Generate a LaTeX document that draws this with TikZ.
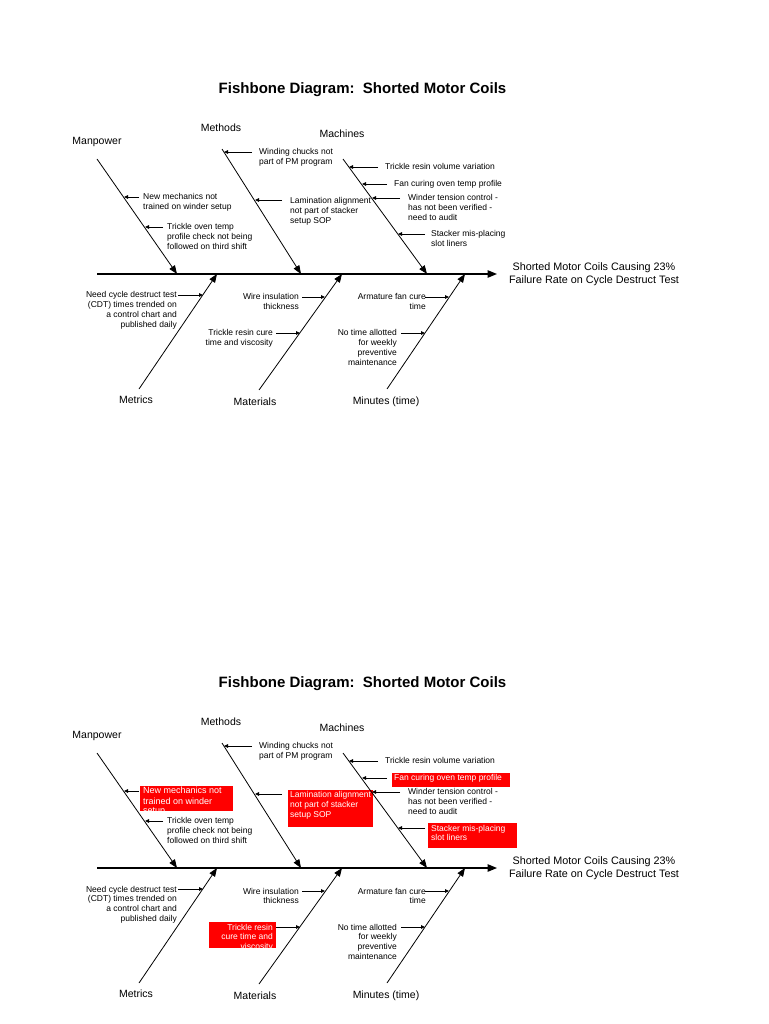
\documentclass[tikz,border=0pt]{standalone}
\usepackage{fontspec}
\setmainfont{Liberation Sans}
\usetikzlibrary{arrows.meta}
\definecolor{hired}{RGB}{255,0,0}
\newcommand{\cfont}{\fontsize{8.5}{9.7}\selectfont}
\newcommand{\cfontb}{\fontsize{9}{9.2}\selectfont}
\newcommand{\lfont}{\fontsize{10.5}{12}\selectfont}
\newcommand{\efont}{\fontsize{10.8}{13}\selectfont}
\newcommand{\tfont}{\fontsize{15}{18}\selectfont\bfseries}
\tikzset{
  bone/.style={line width=0.8pt, -{Triangle[length=8.5pt,width=6.5pt]}},
  spine/.style={line width=1.3pt, -{Triangle[length=9.5pt,width=7.5pt]}},
  carrow/.style={line width=0.9pt, -{Triangle[length=4pt,width=3.5pt]}},
  causeL/.style={font=\cfont, inner sep=0pt, align=left, anchor=north west},
  causeR/.style={font=\cfont, inner sep=0pt, align=right, anchor=north east},
  catlabel/.style={font=\lfont, inner sep=0pt, anchor=base},
  titlenode/.style={font=\tfont, inner sep=0pt, anchor=base},
  effectnode/.style={font=\efont, inner sep=0pt, align=center, anchor=north},
  redbox/.style={fill=hired, draw=none, inner sep=0pt, anchor=north west},
}
\newcommand{\fishskeleton}{%
  \node[titlenode] (title) at (362.5,93.4) {Fishbone Diagram:\ \ Shorted Motor Coils};
  \coordinate (spS) at (97,274);
  \coordinate (spE) at (497,274);
  \draw[spine] (spS) -- (spE);
  \node[effectnode] (effect) at (594,261.2) {\strut Shorted Motor Coils Causing 23\%\\Failure Rate on Cycle Destruct Test};
  % category labels
  \node[catlabel] (lMan) at (97,144.8) {Manpower};
  \node[catlabel] (lMet) at (221,131.8) {Methods};
  \node[catlabel] (lMac) at (342,137.8) {Machines};
  \node[catlabel] (lMtr) at (136,403.8) {Metrics};
  \node[catlabel] (lMat) at (255,405.8) {Materials};
  \node[catlabel] (lMin) at (386,404.8) {Minutes (time)};
  % bones
  \coordinate (manS) at (97,159);  \coordinate (manE) at (177,274);
  \coordinate (metS) at (222,149); \coordinate (metE) at (301,274);
  \coordinate (macS) at (343,159); \coordinate (macE) at (427,274);
  \coordinate (mtrS) at (139,389); \coordinate (mtrE) at (217,274);
  \coordinate (matS) at (259,390); \coordinate (matE) at (342,274);
  \coordinate (minS) at (387,389); \coordinate (minE) at (465,274);
  \draw[bone] (manS) -- (manE);
  \draw[bone] (metS) -- (metE);
  \draw[bone] (macS) -- (macE);
  \draw[bone] (mtrS) -- (mtrE);
  \draw[bone] (matS) -- (matE);
  \draw[bone] (minS) -- (minE);
  % cause arrows
  \coordinate (a1s) at (139,197);  \coordinate (a1e) at (124,197);
  \coordinate (a2s) at (163,227);  \coordinate (a2e) at (145,227);
  \coordinate (a3s) at (252,152);  \coordinate (a3e) at (224,152);
  \coordinate (a4s) at (282,200);  \coordinate (a4e) at (255,200);
  \coordinate (a5s) at (378,167);  \coordinate (a5e) at (349,167);
  \coordinate (a6s) at (387,184);  \coordinate (a6e) at (362,184);
  \coordinate (a7s) at (400,198);  \coordinate (a7e) at (372,198);
  \coordinate (a8s) at (425,234);  \coordinate (a8e) at (398,234);
  \coordinate (a9s) at (178,295);  \coordinate (a9e) at (203,295);
  \coordinate (a10s) at (302,297); \coordinate (a10e) at (325,297);
  \coordinate (a11s) at (276,333); \coordinate (a11e) at (300,333);
  \coordinate (a12s) at (425,297); \coordinate (a12e) at (449,297);
  \coordinate (a13s) at (401,333); \coordinate (a13e) at (425,333);
  \foreach \k in {1,...,13} {\draw[carrow] (a\k s) -- (a\k e);}
  % causes that are never highlighted
  \node[causeL] (c2) at (167,223) {\strut Trickle oven temp\\profile check not being\\followed on third shift};
  \node[causeL] (c3) at (259,148) {\strut Winding chucks not\\part of PM program};
  \node[causeL] (c5) at (385,163) {\strut Trickle resin volume variation};
  \node[causeL] (c7) at (408,194) {\strut Winder tension control -\\has not been verified -\\need to audit};
  \node[causeR] (c9) at (177,291) {\strut Need cycle destruct test\\(CDT) times trended on\\a control chart and\\published daily};
  \node[causeR] (c10) at (299,293) {\strut Wire insulation\\thickness};
  \node[causeR] (c12) at (426,293) {\strut Armature fan cure\\time};
  \node[causeR] (c13) at (397,329) {\strut No time allotted\\for weekly\\preventive\\maintenance};
}
\begin{document}
\begin{tikzpicture}[x=1pt,y=-1pt]
\useasboundingbox[fill=white] (0,0) rectangle (768,1024);
% ---------- upper diagram ----------
\begin{scope}[name prefix=t-]
  \fishskeleton
  \node[causeL] (c1) at (143,193) {\strut New mechanics not\\trained on winder setup};
  \node[causeL] (c4) at (290,197) {\strut Lamination alignment\\not part of stacker\\setup SOP};
  \node[causeL] (c6) at (394,180) {\strut Fan curing oven temp profile};
  \node[causeL] (c8) at (431,230) {\strut Stacker mis-placing\\slot liners};
  \node[causeR] (c11) at (273,329) {\strut Trickle resin cure\\time and viscosity};
\end{scope}
% ---------- lower diagram (highlighted) ----------
\begin{scope}[name prefix=b-, yshift=-594pt]
  \node[redbox, minimum width=93pt, minimum height=25pt] (h1) at (140,192) {};
  \node[redbox, minimum width=85pt, minimum height=37pt] (h4) at (288,196) {};
  \node[redbox, minimum width=118pt, minimum height=14.5pt] (h6) at (392,178.3) {};
  \node[redbox, minimum width=89pt, minimum height=25.5pt] (h8) at (428,228.7) {};
  \node[redbox, minimum width=67pt, minimum height=26pt] (h11) at (209,328) {};
  \begin{scope}
    \clip (h1.north west) rectangle (h1.south east);
    \node[causeL, font=\cfontb, text=white] (c1) at (143,193) {\strut New mechanics not\\trained on winder\\setup};
  \end{scope}
  \begin{scope}
    \clip (h4.north west) rectangle (h4.south east);
    \node[causeL, text=white] (c4) at (290,197) {\strut Lamination alignment\\not part of stacker\\setup SOP};
  \end{scope}
  \begin{scope}
    \clip (h6.north west) rectangle (h6.south east);
    \node[causeL, text=white] (c6) at (394,180) {\strut Fan curing oven temp profile};
  \end{scope}
  \begin{scope}
    \clip (h8.north west) rectangle (h8.south east);
    \node[causeL, text=white] (c8) at (431,230) {\strut Stacker mis-placing\\slot liners};
  \end{scope}
  \begin{scope}
    \clip (h11.north west) rectangle (h11.south east);
    \node[causeR, text=white] (c11) at (273,329) {\strut Trickle resin\\cure time and\\viscosity};
  \end{scope}
  \fishskeleton
\end{scope}
\end{tikzpicture}
\end{document}
